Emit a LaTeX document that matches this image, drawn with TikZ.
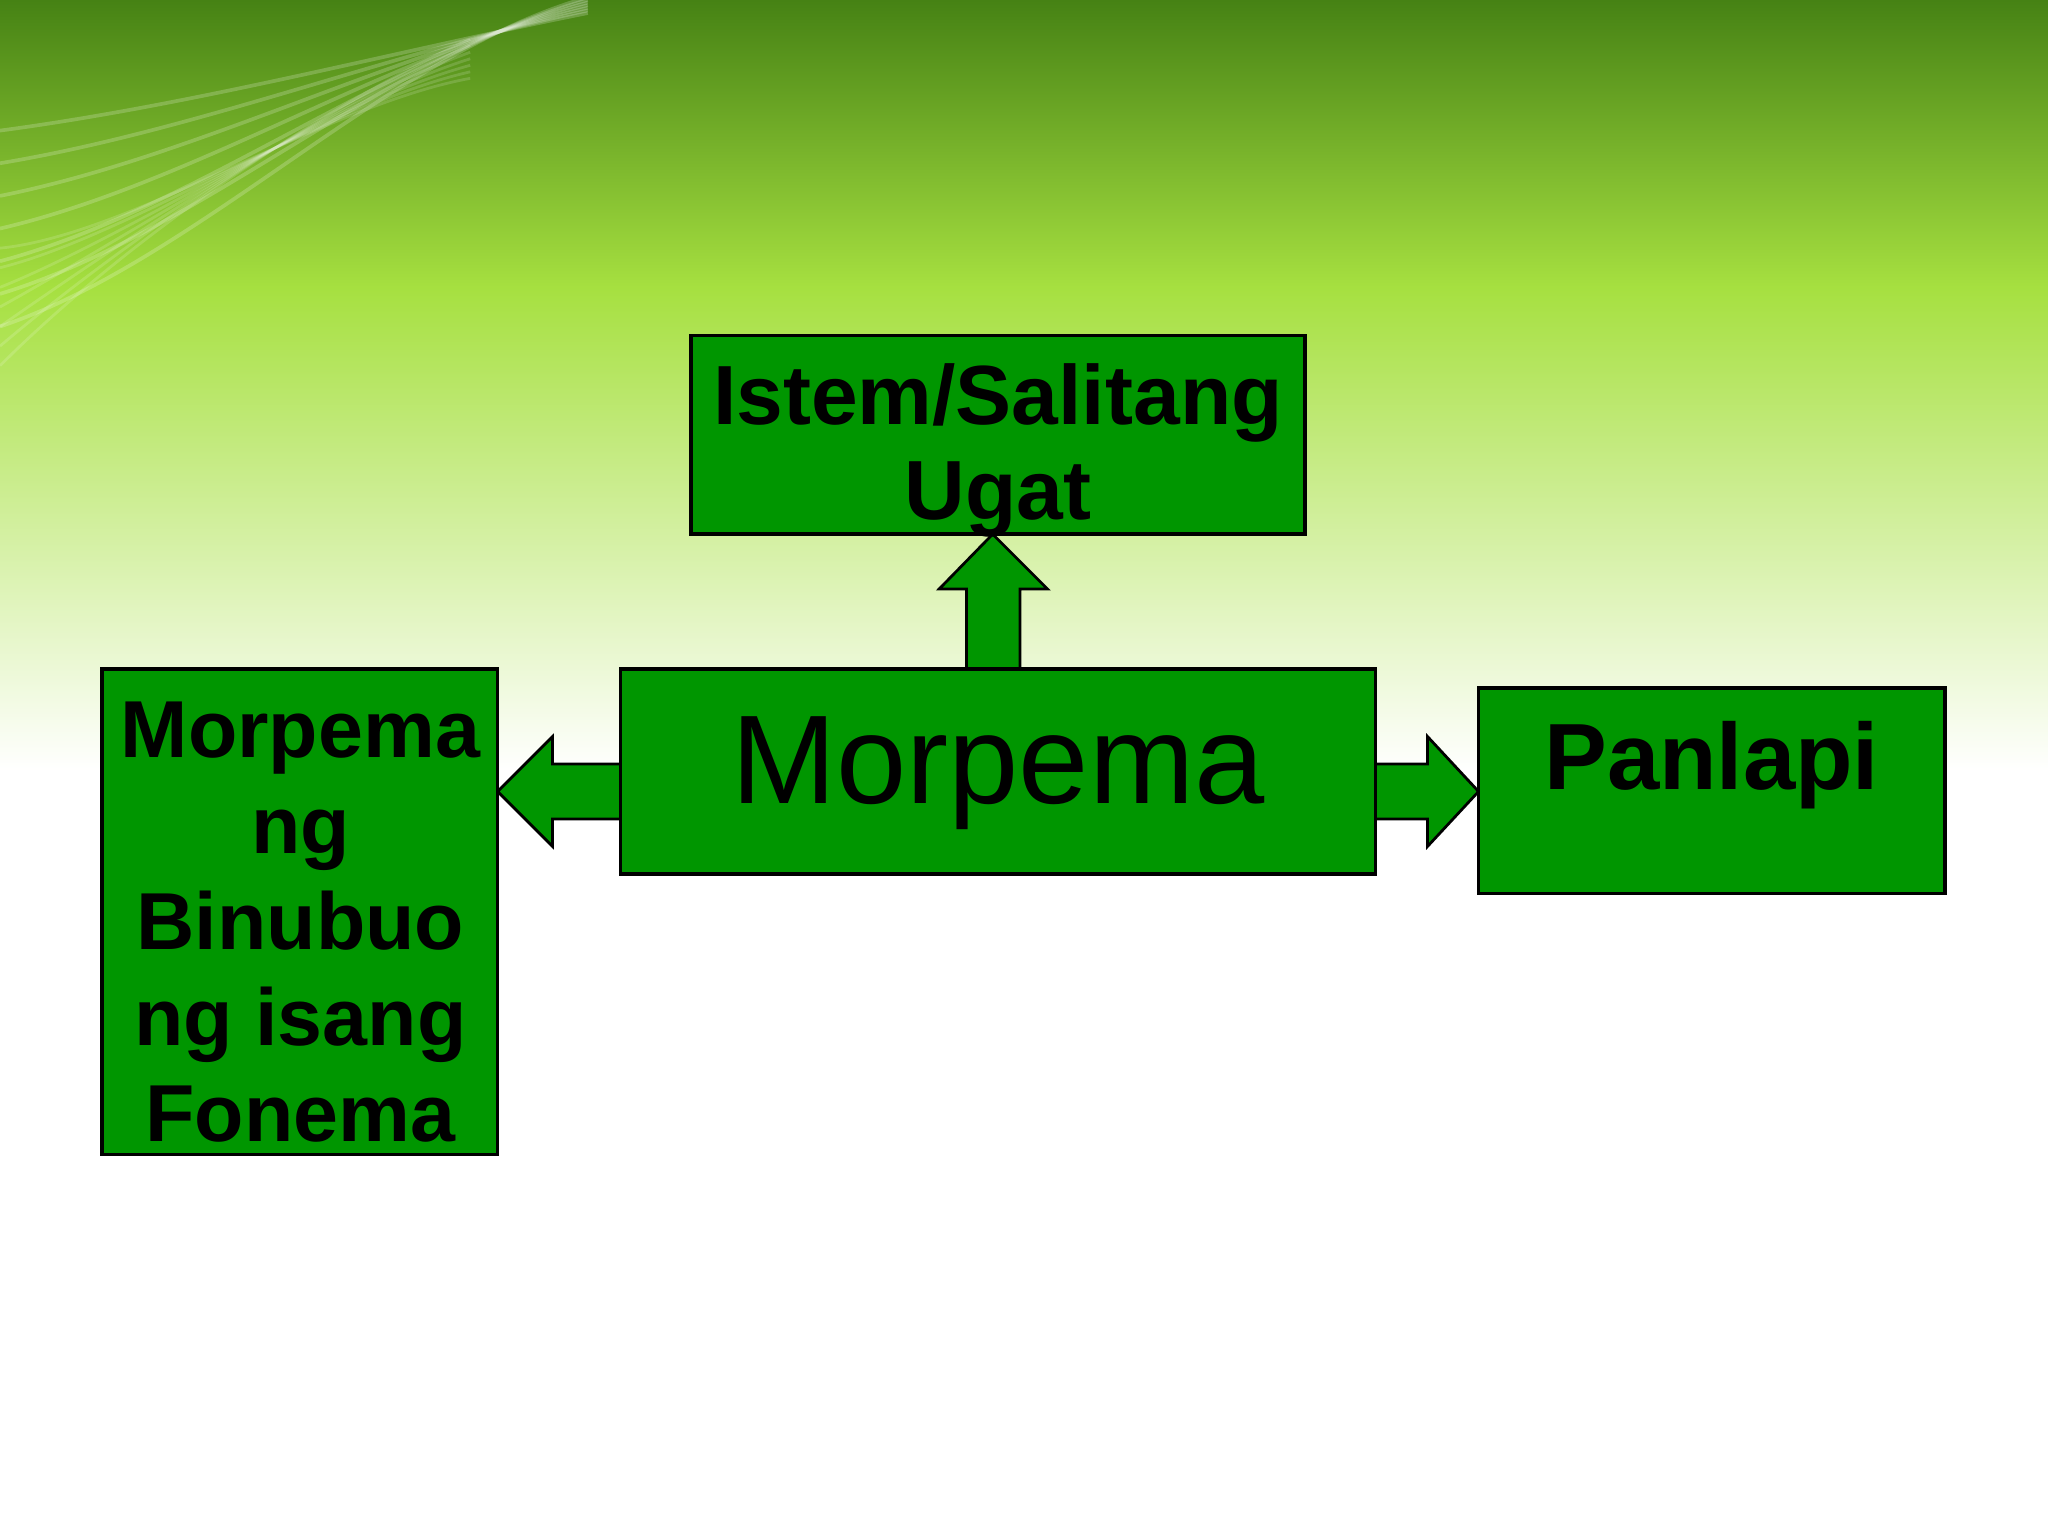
\documentclass[tikz,border=0pt]{standalone}
\usepackage{fontspec}
\setmainfont{Liberation Sans}
\begin{document}
\begin{tikzpicture}[x=1cm,y=1cm,
  box/.style={draw=black,fill=boxgreen,line width=0.8pt,inner sep=0pt},
  lbl/.style={font=\bfseries,align=center,text=black},
  arr/.style={draw=black,fill=boxgreen,line width=0.6pt,line join=miter}]
\definecolor{boxgreen}{RGB}{0,150,0}
\definecolor{topgreen}{RGB}{70,130,20}
\definecolor{midgreen}{RGB}{166,224,64}
\useasboundingbox (0,0) rectangle (15.68,-11.76);
\fill[white] (0,0) rectangle (15.68,-11.76);
\shade[top color=topgreen,bottom color=midgreen] (0,0) rectangle (15.68,-2.2);
\shade[top color=midgreen,bottom color=white] (0,-2.2) rectangle (15.68,-5.9);
\foreach \i in {0,...,6}{
  \draw[white,opacity=0.2,line width=0.8pt] (0,-1.0-0.25*\i) .. controls (1.5,-0.8-0.2*\i) and (3,-0.4) .. (4.5,-0.1+0.02*\i);
  \draw[white,opacity=0.15,line width=0.6pt] (0,-2.8+0.15*\i) .. controls (1,-1.8) and (2.5,-0.8) .. (3.6,-0.3-0.05*\i);
}
% arrows
\draw[arr] (7.40,-5.12) -- (7.40,-4.51) -- (7.19,-4.51) -- (7.60,-4.09) -- (8.02,-4.51) -- (7.81,-4.51) -- (7.81,-5.12) -- cycle;
\draw[arr] (4.75,-5.85) -- (4.23,-5.85) -- (4.23,-5.64) -- (3.81,-6.06) -- (4.23,-6.48) -- (4.23,-6.27) -- (4.75,-6.27) -- cycle;
\draw[arr] (10.53,-5.85) -- (10.93,-5.85) -- (10.93,-5.64) -- (11.32,-6.06) -- (10.93,-6.48) -- (10.93,-6.27) -- (10.53,-6.27) -- cycle;
% boxes
\node[box,minimum width=4.70cm,minimum height=1.52cm] (ist) at (7.64,-3.33) {};
\node[box,minimum width=5.78cm,minimum height=1.57cm] (mor) at (7.64,-5.905) {};
\node[box,minimum width=3.03cm,minimum height=3.72cm] (lft) at (2.295,-6.98) {};
\node[box,minimum width=3.57cm,minimum height=1.57cm] (pan) at (13.105,-6.055) {};
% texts
\node[lbl,font=\fontsize{18.3pt}{20.7pt}\selectfont\bfseries] (tist) at (7.64,-3.45) {Istem/Salitang\\Ugat};
\node[lbl,font=\fontsize{27.5pt}{30pt}\selectfont] (tmor) at (7.64,-5.92) {Morpema};
\node[lbl,font=\fontsize{17.6pt}{20.9pt}\selectfont\bfseries] (tlft) at (2.30,-7.06) {Morpema\\ng\\Binubuo\\ng isang\\Fonema};
\node[lbl,font=\fontsize{20.5pt}{24pt}\selectfont\bfseries] (tpan) at (13.105,-5.86) {Panlapi};
\end{tikzpicture}
\end{document}
